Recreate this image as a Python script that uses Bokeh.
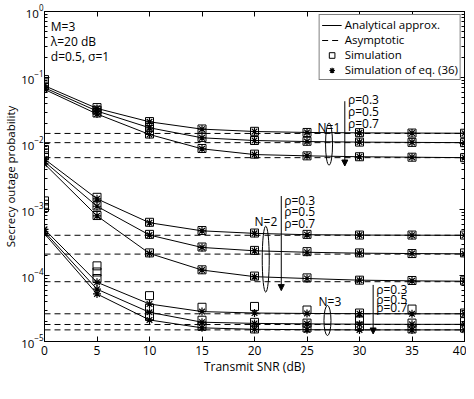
from bokeh.plotting import figure
from bokeh.models import (Range1d, LinearAxis, LogAxis, FixedTicker, Legend,
                          LegendItem, Label, Arrow, NormalHead, CustomJSTickFormatter)
from bokeh.embed import file_html
from bokeh.resources import INLINE

# ---------------- data ----------------
snr = [0, 5, 10, 15, 20, 25, 30, 35, 40]
rho_labels = ["ρ=0.3", "ρ=0.5", "ρ=0.7"]
group_labels = ["N=1", "N=2", "N=3"]

# N = 1 (rho = 0.3, 0.5, 0.7)
n1_anal_r03 = [0.075, 0.034, 0.0213, 0.0165, 0.0152, 0.0147, 0.0145, 0.0144, 0.0143]
n1_anal_r05 = [0.070, 0.031, 0.0173, 0.0122, 0.0111, 0.0107, 0.0105, 0.0104, 0.0103]
n1_anal_r07 = [0.066, 0.028, 0.0137, 0.0083, 0.0068, 0.0065, 0.0063, 0.0062, 0.0061]
n1_asym = [0.0142, 0.0103, 0.0061]
n1_sim_r03 = [0.093, 0.035, 0.0215, 0.0166, 0.0153, 0.0147, 0.0146, 0.0144, 0.0143]
n1_sim_r05 = [0.083, 0.032, 0.0175, 0.0123, 0.0111, 0.0108, 0.0105, 0.0104, 0.0103]
n1_sim_r07 = [0.074, 0.029, 0.0139, 0.0084, 0.0069, 0.0065, 0.0063, 0.0062, 0.0061]

# N = 2
n2_anal_r03 = [0.0058, 0.00145, 6.3e-4, 4.75e-4, 4.35e-4, 4.15e-4, 4.1e-4, 4.08e-4, 4.07e-4]
n2_anal_r05 = [0.0053, 0.00112, 4.1e-4, 2.66e-4, 2.37e-4, 2.25e-4, 2.18e-4, 2.15e-4, 2.13e-4]
n2_anal_r07 = [0.0049, 8.0e-4, 2.16e-4, 1.21e-4, 9.6e-5, 9.0e-5, 8.5e-5, 8.3e-5, 8.2e-5]
n2_asym = [4.07e-4, 2.11e-4, 8.05e-5]
n2_sim_r03 = [0.0081, 0.00153, 6.4e-4, 4.8e-4, 4.4e-4, 4.2e-4, 4.1e-4, 4.1e-4, 4.1e-4]
n2_sim_r05 = [0.0072, 0.00113, 4.2e-4, 2.7e-4, 2.4e-4, 2.3e-4, 2.2e-4, 2.15e-4, 2.2e-4]
n2_sim_r07 = [0.0065, 8.1e-4, 2.2e-4, 1.22e-4, 9.8e-5, 9.2e-5, 8.5e-5, 8.4e-5, 8.3e-5]

# N = 3
n3_anal_r03 = [5.0e-4, 7.9e-5, 3.7e-5, 2.84e-5, 2.7e-5, 2.66e-5, 2.64e-5, 2.63e-5, 2.63e-5]
n3_anal_r05 = [4.6e-4, 6.2e-5, 2.77e-5, 1.96e-5, 1.88e-5, 1.85e-5, 1.83e-5, 1.82e-5, 1.82e-5]
n3_anal_r07 = [4.3e-4, 5.25e-5, 2.12e-5, 1.61e-5, 1.53e-5, 1.51e-5, 1.5e-5, 1.5e-5, 1.5e-5]
n3_asym = [2.63e-5, 1.81e-5, 1.5e-5]
n3_sim_r03 = [1.35e-3, 1.4e-4, 4.95e-5, 3.3e-5, 3.4e-5, 3.0e-5, 2.7e-5, 3.1e-5, 2.7e-5]
n3_sim_r05 = [1.2e-3, 1.13e-4, 3.2e-5, 2.1e-5, 1.95e-5, 1.9e-5, 2.1e-5, 1.9e-5, 2.0e-5]
n3_sim_r07 = [1.07e-3, 9.0e-5, 2.4e-5, 1.7e-5, 1.55e-5, 1.6e-5, 1.7e-5, 1.55e-5, 1.6e-5]

x_ticks = [0, 5, 10, 15, 20, 25, 30, 35, 40]
y_ticks = [1e-5, 1e-4, 1e-3, 1e-2, 1e-1, 1e0]

analytical = [n1_anal_r03, n1_anal_r05, n1_anal_r07,
              n2_anal_r03, n2_anal_r05, n2_anal_r07,
              n3_anal_r03, n3_anal_r05, n3_anal_r07]
simulation = [n1_sim_r03, n1_sim_r05, n1_sim_r07,
              n2_sim_r03, n2_sim_r05, n2_sim_r07,
              n3_sim_r03, n3_sim_r05, n3_sim_r07]
asymptotes = n1_asym + n2_asym + n3_asym

# ---------------- figure ----------------
FONT = "Open Sans"

p = figure(width=466, height=391, x_range=Range1d(0, 40), y_range=Range1d(1e-5, 1),
           y_axis_type="log", output_backend="svg", toolbar_location=None,
           min_border_left=44, min_border_right=2, min_border_top=11, min_border_bottom=50)
p.grid.visible = False
p.outline_line_color = "black"
p.outline_line_width = 1
p.background_fill_color = "white"
p.border_fill_color = "white"

y_minor = [m * t for t in y_ticks[:-1] for m in range(2, 10)]
xt = FixedTicker(ticks=x_ticks, minor_ticks=[])
yt = FixedTicker(ticks=y_ticks, minor_ticks=y_minor)
blank = CustomJSTickFormatter(code="return ''")


def style_axis(ax, labels=True):
    ax.axis_line_color = "black"
    ax.major_tick_in = 5
    ax.major_tick_out = 0
    ax.minor_tick_in = 3
    ax.minor_tick_out = 0
    ax.major_tick_line_color = "black"
    ax.minor_tick_line_color = "black"
    if labels:
        ax.major_label_text_font = FONT
        ax.major_label_text_font_size = "12px"
        ax.major_label_text_color = "black"
        ax.axis_label_text_font = FONT
        ax.axis_label_text_font_size = "12px"
        ax.axis_label_text_font_style = "normal"
        ax.axis_label_text_color = "black"
    else:
        ax.formatter = blank
        ax.major_label_text_font_size = "1px"
        ax.major_label_standoff = 0


xa = p.xaxis[0]
xa.ticker = xt
xa.axis_label = "Transmit SNR (dB)"
style_axis(xa)
xa.major_label_standoff = 4
xa.axis_label_standoff = 0

ya = p.yaxis[0]
ya.ticker = yt
ya.axis_label = "Secrecy outage probability"
style_axis(ya)
ya.major_label_text_font_size = "11.5px"
ya.axis_label_text_font_size = "11.5px"
ya.major_label_standoff = 1
ya.axis_label_standoff = 0

top = LinearAxis(ticker=xt)
style_axis(top, labels=False)
p.add_layout(top, "above")

right = LogAxis(ticker=yt)
style_axis(right, labels=False)
p.add_layout(right, "right")

# ---------------- glyphs ----------------
line_r = None
asym_r = None
for a in asymptotes:
    r = p.line([snr[0], snr[-1]], [a, a], line_color="black", line_width=1,
               line_dash="6 4")
    asym_r = asym_r or r
for series in analytical:
    r = p.line(snr, series, line_color="black", line_width=1)
    line_r = line_r or r
sq_r = None
for series in simulation:
    r = p.scatter(snr, series, marker="square", size=8, fill_color=None,
                  line_color="black", line_width=1)
    sq_r = sq_r or r
st_r = None
for series in analytical:
    r = p.scatter(snr, series, marker="asterisk", size=8, line_color="black",
                  line_width=1.2)
    st_r = st_r or r

legend = Legend(items=[
    LegendItem(label="Analytical approx.", renderers=[line_r]),
    LegendItem(label="Asymptotic", renderers=[asym_r]),
    LegendItem(label="Simulation", renderers=[sq_r]),
    LegendItem(label="Simulation of eq. (36)", renderers=[st_r]),
], location="top_right")
legend.margin = 3
legend.padding = 2
legend.spacing = 0
legend.label_height = 14
legend.glyph_height = 14
legend.glyph_width = 20
legend.label_standoff = 3
legend.label_text_font = FONT
legend.label_text_font_size = "11.5px"
legend.label_text_color = "black"
legend.border_line_color = "black"
legend.border_line_width = 1
legend.background_fill_alpha = 1
p.add_layout(legend)

# ---------------- annotations ----------------
def text(x, y, s):
    p.add_layout(Label(x=x, y=y, text=s, text_font=FONT, text_font_size="12px",
                       text_color="black", text_baseline="middle", text_align="left"))

text(0.6, 0.59, "M=3")
text(0.6, 0.35, "λ=20 dB")
text(0.6, 0.209, "d=0.5, σ=1")

# group labels, loops and arrows
grp_text_pos = [(26.0, 0.0175), (20.0, 6.6e-4), (26.1, 4.1e-5)]
loop_pos = [(27.1, 0.0098, 42), (21.07, 1.77e-4, 66), (26.95, 2.08e-5, 30)]
arrow_pos = [(28.6, 0.0437, 0.00456), (22.55, 1.6e-3, 5.9e-5), (31.3, 7.2e-5, 1.3e-5)]
rho_pos = [(28.9, [0.0469, 0.0309, 0.0203]),
           (22.83, [1.35e-3, 9.3e-4, 6.2e-4]),
           (31.6, [6.1e-5, 4.4e-5, 3.23e-5])]

for (gx, gy), lab in zip(grp_text_pos, group_labels):
    text(gx, gy, lab)
p.ellipse(x=[lp[0] for lp in loop_pos], y=[lp[1] for lp in loop_pos],
          width=7, height=[lp[2] for lp in loop_pos],
          width_units="screen", height_units="screen",
          fill_color=None, line_color="black", line_width=1)
for ax_, y0, y1 in arrow_pos:
    p.add_layout(Arrow(x_start=ax_, y_start=y0, x_end=ax_, y_end=y1,
                       line_color="black", line_width=1,
                       end=NormalHead(size=6, fill_color="black", line_color="black")))
for rx, ys in rho_pos:
    for yy, lab in zip(ys, rho_labels):
        text(rx, yy, lab)

open("out.html", "w").write(file_html(p, INLINE))
